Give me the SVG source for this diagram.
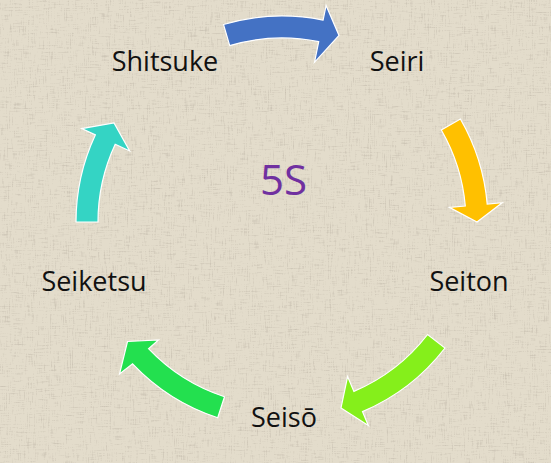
<svg xmlns="http://www.w3.org/2000/svg" width="551" height="463" viewBox="0 0 551 463">
  <defs>
    <filter id="linen" x="0" y="0" width="551" height="463" filterUnits="userSpaceOnUse">
      <feTurbulence type="fractalNoise" baseFrequency="0.95 0.08" numOctaves="2" seed="3" result="v"/>
      <feTurbulence type="fractalNoise" baseFrequency="0.08 0.95" numOctaves="2" seed="9" result="h"/>
      <feBlend in="v" in2="h" mode="multiply" result="n"/>
      <feColorMatrix in="n" type="matrix" values="0 0 0 0 0.52  0 0 0 0 0.47  0 0 0 0 0.39  -3.5 0 0 0 1.4"/>
    </filter>
    <style>
      .lbl { font-family: "Open Sans", "Liberation Sans", sans-serif; font-size: 27px; fill: #111111; text-anchor: middle; }
      .title { font-family: "Open Sans", "Liberation Sans", sans-serif; font-size: 42px; fill: #7030A0; text-anchor: middle; }
      .arrow { stroke: #FFFFFF; stroke-width: 1.2; stroke-linejoin: miter; }
    </style>
  </defs>
  <rect width="551" height="463" fill="#E3DCCB"/>
  <rect width="551" height="463" filter="url(#linen)" opacity="0.7"/>

  <g id="connectors">
    <path id="arrow-seiri" class="arrow" fill="#4472C4" d="M223.5,24.5 A206,206 0 0 1 323.1,20.1 L326.1,5.4 L339.0,35.5 L314.5,62.3 L318.7,41.7 A184,184 0 0 0 229.7,45.6 Z"/>
    <path id="arrow-seiton" class="arrow" fill="#FFC000" d="M460.4,119.0 A206,206 0 0 1 487.2,204.0 L502.2,202.7 L477.0,222.0 L449.4,207.4 L465.3,206.0 A184,184 0 0 0 441.3,130.0 Z"/>
    <path id="arrow-seiso" class="arrow" fill="#85EF1B" d="M445.0,348.0 A206,206 0 0 1 362.5,411.6 L368.3,425.4 L341.0,407.9 L347.6,376.6 L353.9,391.4 A184,184 0 0 0 427.6,334.5 Z"/>
    <path id="arrow-seiketsu" class="arrow" fill="#23E04F" d="M217.7,417.7 A206,206 0 0 1 132.6,363.8 L119.5,374.0 L127.5,341.5 L158.5,340.0 L148.5,348.7 A184,184 0 0 0 224.5,396.8 Z"/>
    <path id="arrow-shitsuke" class="arrow" fill="#34D4C4" d="M76,222 A206,206 0 0 1 95.3,134.9 L81.7,128.6 L114.0,123.0 L129.7,151.0 L115.2,144.2 A184,184 0 0 0 98,222 Z"/>
  </g>

  <g id="node-center"><text class="title" x="283.5" y="195">5S</text></g>
  <g id="node-seiri"><text class="lbl" x="397" y="71">Seiri</text></g>
  <g id="node-seiton"><text class="lbl" x="469" y="291">Seiton</text></g>
  <g id="node-seiso"><text class="lbl" x="284" y="427">Seisō</text></g>
  <g id="node-seiketsu"><text class="lbl" x="94" y="291">Seiketsu</text></g>
  <g id="node-shitsuke"><text class="lbl" x="165" y="71">Shitsuke</text></g>
</svg>
